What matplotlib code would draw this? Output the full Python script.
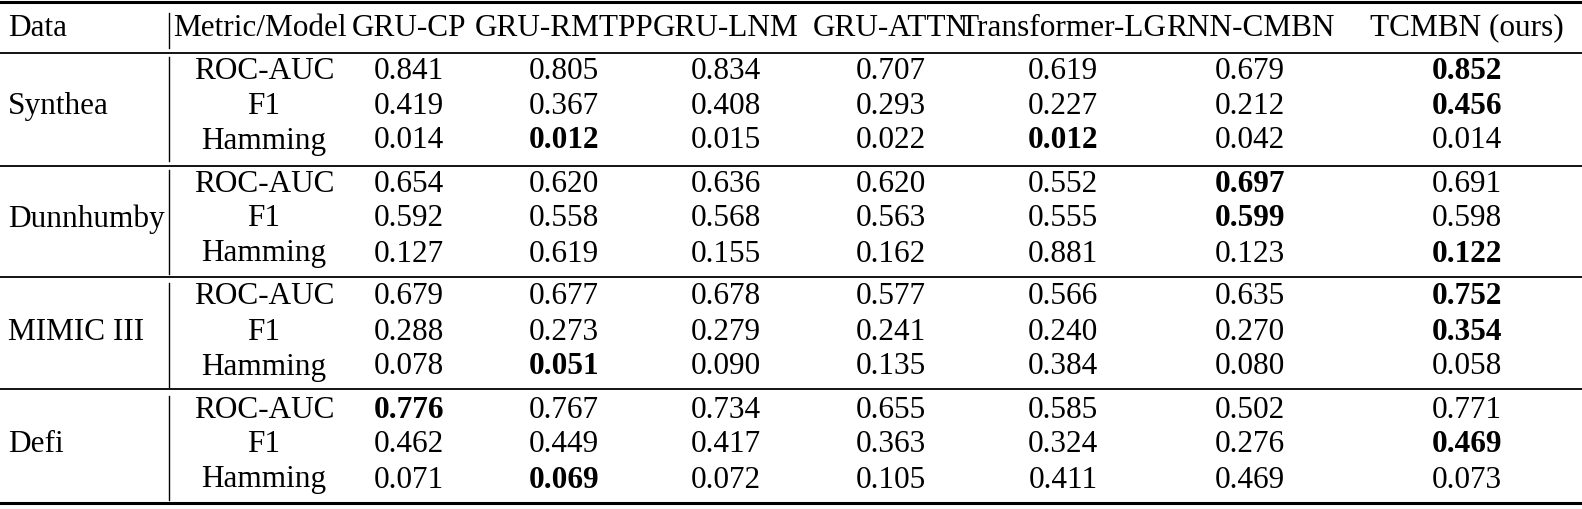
import matplotlib
matplotlib.use("Agg")
import matplotlib.pyplot as plt

datasets = ["Synthea", "Dunnhumby", "MIMIC III", "Defi"]
metrics = ["ROC-AUC", "F1", "Hamming"]
models = ["GRU-CP", "GRU-RMTPP", "GRU-LNM", "GRU-ATTN", "Transformer-LG", "RNN-CMBN", "TCMBN (ours)"]
values = [
    ["0.841", "0.805", "0.834", "0.707", "0.619", "0.679", "0.852"],
    ["0.419", "0.367", "0.408", "0.293", "0.227", "0.212", "0.456"],
    ["0.014", "0.012", "0.015", "0.022", "0.012", "0.042", "0.014"],
    ["0.654", "0.620", "0.636", "0.620", "0.552", "0.697", "0.691"],
    ["0.592", "0.558", "0.568", "0.563", "0.555", "0.599", "0.598"],
    ["0.127", "0.619", "0.155", "0.162", "0.881", "0.123", "0.122"],
    ["0.679", "0.677", "0.678", "0.577", "0.566", "0.635", "0.752"],
    ["0.288", "0.273", "0.279", "0.241", "0.240", "0.270", "0.354"],
    ["0.078", "0.051", "0.090", "0.135", "0.384", "0.080", "0.058"],
    ["0.776", "0.767", "0.734", "0.655", "0.585", "0.502", "0.771"],
    ["0.462", "0.449", "0.417", "0.363", "0.324", "0.276", "0.469"],
    ["0.071", "0.069", "0.072", "0.105", "0.411", "0.469", "0.073"],
]
bold = {(0, 6), (1, 6), (2, 1), (2, 4), (3, 5), (4, 5), (5, 6), (6, 6), (7, 6), (8, 1),
        (9, 0), (10, 6), (11, 1)}

W, H = 1582, 509
fig = plt.figure(figsize=(W / 100, H / 100), dpi=100)
ax = fig.add_axes([0, 0, 1, 1])
ax.set_xlim(0, W)
ax.set_ylim(H, 0)
ax.axis("off")
plt.rcParams["font.family"] = ["Liberation Serif", "DejaVu Serif"]
fs = 22.5

col_x = [409, 564, 726, 891, 1063, 1250, 1467]
metric_x = 264
vline_x = 169
hy = 28
ax.text(8, hy, "Data", fontsize=fs, ha="left", va="center")
ax.text(173, hy, "Metric/Model", fontsize=fs, ha="left", va="center")
for x, m in zip(col_x, models):
    ax.text(x, hy, m, fontsize=fs, ha="center", va="center")

ax.plot([0, W], [2, 2], color="black", lw=2.2)
ax.plot([0, W], [53, 53], color="black", lw=1.3)
ax.plot([vline_x, vline_x], [13, 48], color="black", lw=1)
rules = [166, 277, 389]
for r in rules:
    ax.plot([0, W], [r, r], color="black", lw=1.3)
ax.plot([0, W], [503, 503], color="black", lw=2.2)

for g, ds in enumerate(datasets):
    y0 = 71 + g * 113
    ax.text(8, y0 + 35, ds, fontsize=fs, ha="left", va="center")
    ax.plot([vline_x, vline_x], [y0 - 14, y0 + 90], color="black", lw=1)
    for i, m in enumerate(metrics):
        y = y0 + i * 35
        r = g * 3 + i
        ax.text(metric_x, y, m, fontsize=fs, ha="center", va="center")
        for j, v in enumerate(values[r]):
            ax.text(col_x[j], y, v, fontsize=fs, ha="center", va="center",
                    fontweight="bold" if (r, j) in bold else "normal")

fig.savefig("out.png", dpi=100)
